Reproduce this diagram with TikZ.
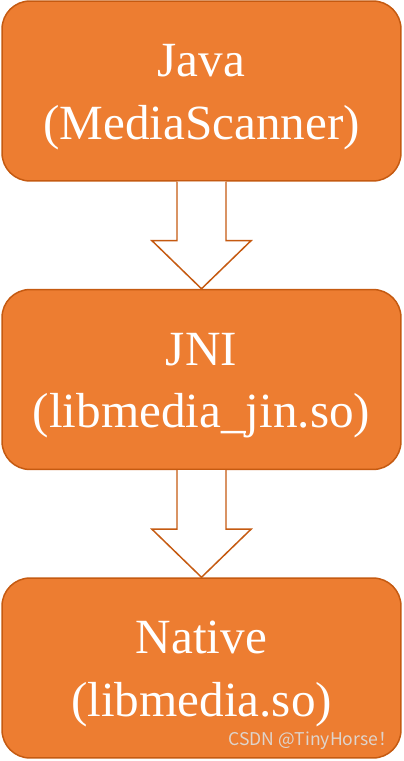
\documentclass[tikz,border=0pt]{standalone}
\usepackage{fontspec}
\setmainfont{Liberation Serif}
\newfontfamily\cjk{Noto Sans CJK SC}
\usetikzlibrary{calc}
\definecolor{boxfill}{HTML}{ED7D31}
\definecolor{boxline}{HTML}{C55A11}
\definecolor{marktext}{RGB}{222,212,204}
\def\hollowarrow(#1)(#2){\draw[flow] ($(#1.south)+(-24.5,0)$) -- ($(#1.south)+(-24.5,59)$) -- ($(#1.south)+(-49.5,59)$) -- (#2.north) -- ($(#1.south)+(49.5,59)$) -- ($(#1.south)+(24.5,59)$) -- ($(#1.south)+(24.5,0)$);}

\begin{document}
\begin{tikzpicture}[x=0.02cm, y=-0.02cm,
		layer/.style={draw=boxline, fill=boxfill, line width=0.85pt, rounded corners=0.56cm,
			minimum width=7.98cm, minimum height=3.6cm},
		caption/.style={text=white, align=center, font=\fontsize{28}{35.7}\selectfont},
		flow/.style={draw=boxline, fill=white, line width=0.85pt}]
		%%%%% START %%%%%
		
		\useasboundingbox (0, 0) rectangle (404, 761);
		
		\node[layer] (java) at (201.5, 91) {};
		\node[layer] (jni) at (201.5, 379.5) {};
		\node[layer] (native) at (201.5, 668) {};
		
		\node[caption] (javatext) at ($(java)+(0, 6)$) {Java\\(MediaScanner)};
		\node[caption] (jnitext) at ($(jni)+(0, 6)$) {JNI\\(libmedia\_jin.so)};
		\node[caption] (nativetext) at ($(native)+(0, 6)$) {Native\\(libmedia.so)};
		
		\hollowarrow(java)(jni)
		\hollowarrow(jni)(native)
		
		\node[text=marktext, font=\cjk\fontsize{10}{12}\selectfont] (mark) at (312, 741) {CSDN @TinyHorse！};
		
		%%%%% END %%%%%
	\end{tikzpicture}
\end{document}
